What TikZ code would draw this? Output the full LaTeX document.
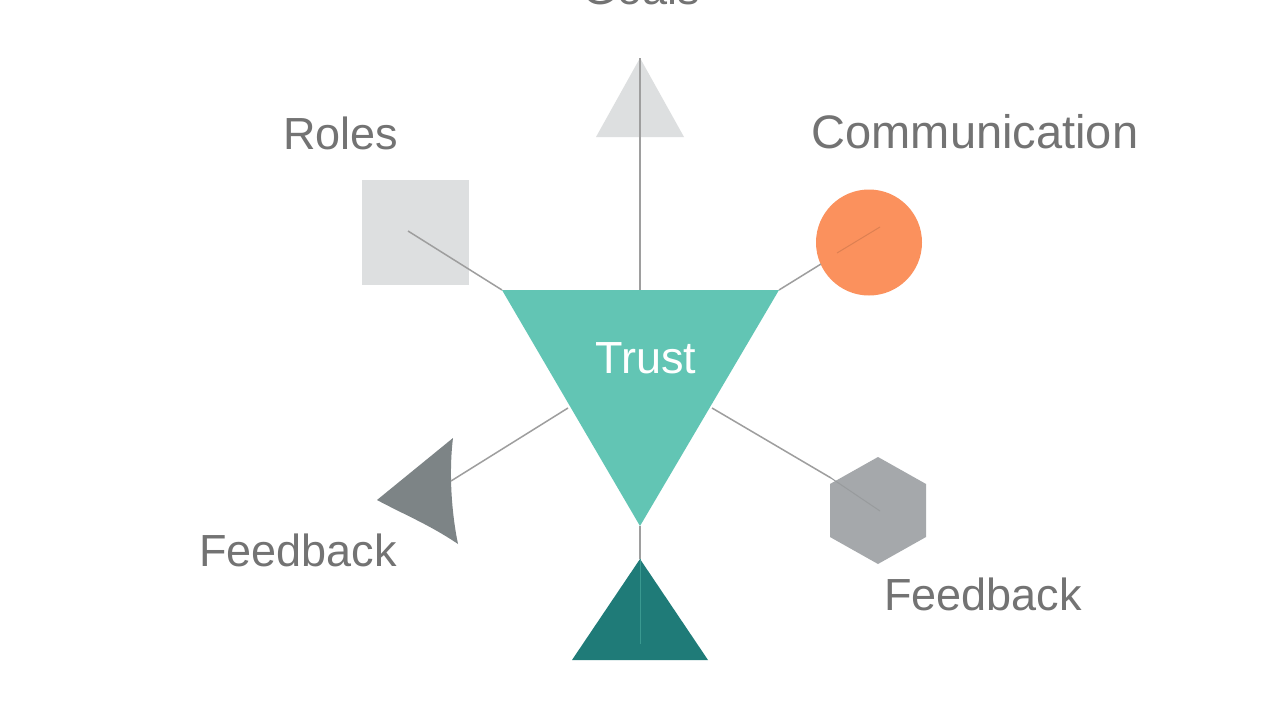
\documentclass[tikz,border=0pt]{standalone}
\usepackage{fontspec}
\setmainfont{Liberation Sans}
\usetikzlibrary{positioning}
\definecolor{trustgreen}{HTML}{62C5B4}
\definecolor{deepteal}{HTML}{1F7B78}
\definecolor{paleshape}{HTML}{DDDFE0}
\definecolor{orangedot}{HTML}{FB915D}
\definecolor{hexgray}{HTML}{A5A8AB}
\definecolor{darkgray}{HTML}{7D8486}
\definecolor{labelgray}{HTML}{737373}
\begin{document}
\begin{tikzpicture}
	[x=1pt, y=-1pt,
		label/.style		={text=labelgray
									, font=\fontsize{45}{50}\selectfont
									, anchor=base
									, inner sep=0pt
									},
		block/.style		={rectangle
									, fill=paleshape
									, minimum width=107pt
									, minimum height=105pt
									, inner sep=0pt
									},
		dot/.style			={circle
									, fill=orangedot
									, minimum size=106pt
									, inner sep=0pt
									},
		line/.style			={draw
									, draw=black!38
									, line width=1.5pt
									},
		faint/.style		={draw
									, line width=1pt
									}
	]
\clip (0,0) rectangle (1280,720);
\fill [white] (0,0) rectangle (1280,720);

% corners of the shapes
\coordinate (goal top)		at (640,58);
\coordinate (trust left)	at (502,290);
\coordinate (trust right)	at (779,290);
\coordinate (trust tip)		at (640,526);
\coordinate (trust top)		at (640,290);
\coordinate (trust low left)	at (568,408);
\coordinate (trust low right)	at (712,408);
\coordinate (roles end)		at (408,231);
\coordinate (comm edge)		at (821,264);
\coordinate (comm start)	at (837,253);
\coordinate (comm end)		at (880,227);
\coordinate (back end)		at (451,481);
\coordinate (hex edge)		at (831,478);
\coordinate (hex end)		at (880,511);
\coordinate (base top)		at (640,559);
\coordinate (base end)		at (640,644);

% shapes
\fill [paleshape] (goal top) -- (684,137) -- (596,137) -- cycle;
\node [block] (roles) at (415.5,232.5) {};
\node [dot] (comm) at (869,242.5) {};
\fill [hexgray] (878,457) -- (926,484) -- (926,537) -- (878,564) -- (830,537) -- (830,484) -- cycle;
\fill [darkgray] (377,500) -- (453,438) .. controls (449,470) and (451,510) .. (458,544) .. controls (430,525) and (405,515) .. cycle;
\fill [deepteal] (base top) -- (708,660) -- (572,660) -- cycle;
\fill [trustgreen] (trust left) -- (trust right) -- (trust tip) -- cycle;

% connectors
\path [line]	(trust left)		-- (roles end);
\path [line]	(trust top)			-- (goal top);
\path [line]	(trust right)		-- (comm edge);
\path [line]	(trust low left)	-- (back end);
\path [line]	(trust low right)	-- (hex edge);
\path [line]	(trust tip)			-- (base top);
\path [faint, draw=orangedot!88!black]		(comm start) -- (comm end);
\path [faint, draw=hexgray!92!black]		(hex edge) -- (hex end);
\path [faint, draw=trustgreen!40!deepteal]	(base top) -- (base end);

% labels
\node [label, text=white] (trust) at (646,373) {Trust};
\node [label] (goals) at (641,5) {Goals};
\node [label] (roles label) at (341,149) {Roles};
\node [label, font=\fontsize{47}{50}\selectfont] (comm label) at (975,148) {Communication};
\node [label] (feedback left) at (298,566) {Feedback};
\node [label] (feedback right) at (983,610) {Feedback};
\end{tikzpicture}
\end{document}
